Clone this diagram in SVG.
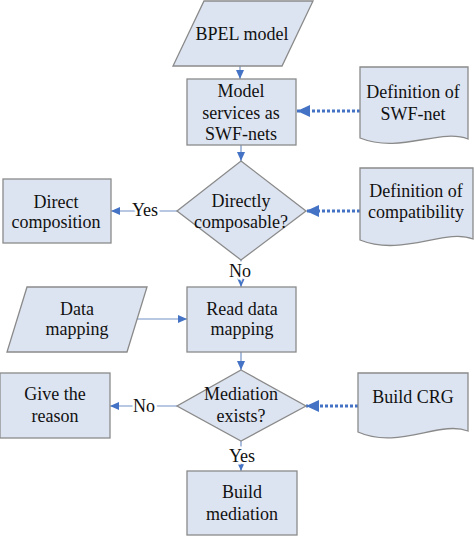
<svg xmlns="http://www.w3.org/2000/svg" width="474" height="538" viewBox="0 0 474 538" font-family="'Liberation Serif', Tinos, 'Times New Roman', 'DejaVu Serif', serif">
<style>
.shape{fill:#DDE4F1;stroke:#8A8A8A;stroke-width:1.3}
text{font-family:'Liberation Serif',Tinos,'Times New Roman','DejaVu Serif',serif;font-size:18px;fill:#111;text-anchor:middle}
.thin{fill:none;stroke:#7292C6;stroke-width:1.2}
.dash{fill:none;stroke:#4472C4;stroke-width:3;stroke-dasharray:3 2}
.lbl{stroke:#fff;stroke-width:5;paint-order:stroke}
</style>
<defs>
<marker id="ah" markerUnits="userSpaceOnUse" markerWidth="9" markerHeight="8" refX="9" refY="4" orient="auto">
<path d="M0,0 L9,4 L0,8 Z" fill="#4472C4"/>
</marker>
<marker id="ahb" markerUnits="userSpaceOnUse" markerWidth="13" markerHeight="12" refX="13" refY="6" orient="auto">
<path d="M0,0 L13,6 L0,12 Z" fill="#4472C4"/>
</marker>
</defs>
<g id="connectors">
<path class="thin" d="M240,66 V79" marker-end="url(#ah)"/>
<path class="thin" d="M241,145 V161" marker-end="url(#ah)"/>
<path class="thin" d="M241,260 V287" marker-end="url(#ah)"/>
<path class="thin" d="M241,352 V370" marker-end="url(#ah)"/>
<path class="thin" d="M241,441 V471" marker-end="url(#ah)"/>
<path class="thin" d="M177,211 H111" marker-end="url(#ah)"/>
<path class="thin" d="M177,406 H110" marker-end="url(#ah)"/>
<path class="thin" d="M133,319 H187" marker-end="url(#ah)"/>
<path class="dash" d="M360,111 H297" marker-end="url(#ahb)"/>
<path class="dash" d="M360,211 H306" marker-end="url(#ahb)"/>
<path class="dash" d="M358,406 H306" marker-end="url(#ahb)"/>
<text class="lbl" x="145" y="216">Yes</text>
<text class="lbl" x="240" y="277">No</text>
<text class="lbl" x="144" y="412">No</text>
<text class="lbl" x="242" y="462">Yes</text>
</g>
<g id="bpel">
<polygon class="shape" points="204,1 313,1 282,66 173,66"/>
<text x="242" y="40">BPEL model</text>
</g>
<g id="model-services">
<rect class="shape" x="187" y="79" width="109" height="66"/>
<text x="241" y="97">Model</text>
<text x="241" y="119">services as</text>
<text x="241" y="140">SWF-nets</text>
</g>
<g id="def-swf">
<path class="shape" d="M360,67 H468 V139 C440,128 400,154 360,138 Z"/>
<text x="413" y="98">Definition of</text>
<text x="413" y="120">SWF-net</text>
</g>
<g id="direct-composable">
<polygon class="shape" points="241,161 306,211 241,260 177,211"/>
<text x="241" y="207">Directly</text>
<text x="241" y="228">composable?</text>
</g>
<g id="direct-composition">
<rect class="shape" x="3" y="179" width="108" height="64"/>
<text x="56" y="208">Direct</text>
<text x="56" y="228">composition</text>
</g>
<g id="def-compat">
<path class="shape" d="M360,168 H473 V239 C445,228 402,257 360,240 Z"/>
<text x="416" y="197">Definition of</text>
<text x="416" y="218">compatibility</text>
</g>
<g id="data-mapping">
<polygon class="shape" points="27,287 147,287 127,352 7,352"/>
<text x="77" y="315">Data</text>
<text x="77" y="335">mapping</text>
</g>
<g id="read-data-mapping">
<rect class="shape" x="187" y="287" width="109" height="65"/>
<text x="242" y="315">Read data</text>
<text x="242" y="335">mapping</text>
</g>
<g id="mediation-exists">
<polygon class="shape" points="241,370 306,406 241,441 177,406"/>
<text x="241" y="400">Mediation</text>
<text x="241" y="422">exists?</text>
</g>
<g id="give-reason">
<rect class="shape" x="0" y="373" width="110" height="65"/>
<text x="55" y="400">Give the</text>
<text x="55" y="422">reason</text>
</g>
<g id="build-crg">
<path class="shape" d="M358,373 H468 V431 C440,420 398,450 358,432 Z"/>
<text x="413" y="403">Build CRG</text>
</g>
<g id="build-mediation">
<rect class="shape" x="187" y="471" width="110" height="64"/>
<text x="242" y="498">Build</text>
<text x="242" y="520">mediation</text>
</g>
</svg>
